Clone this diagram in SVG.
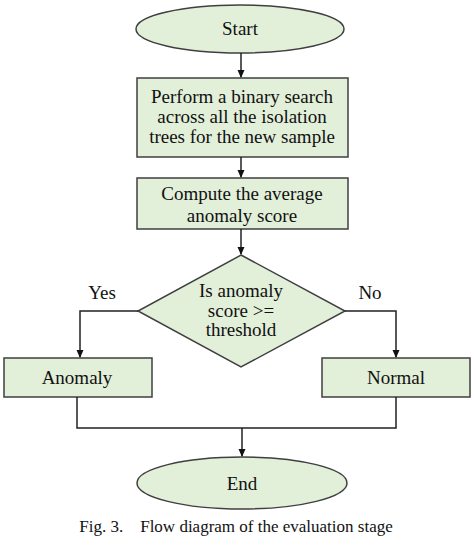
<svg xmlns="http://www.w3.org/2000/svg" width="474" height="537" viewBox="0 0 474 537">
<defs>
<style>
.n{fill:#e2efd9;stroke:#3f3f3f;stroke-width:1.5}
.t{font-family:"Liberation Serif","Times New Roman",serif;font-size:19px;fill:#111;text-anchor:middle}
.c{fill:none;stroke:#222;stroke-width:1.5}
</style>
<marker id="a" markerWidth="8" markerHeight="8" refX="7" refY="4" orient="auto" markerUnits="userSpaceOnUse">
<path d="M0,0.5 L8,4 L0,7.5 Z" fill="#111"/>
</marker>
</defs>
<rect width="474" height="537" fill="#fff"/>
<g id="start">
<ellipse class="n" cx="240" cy="29" rx="104" ry="24"/>
<text class="t" x="240" y="35">Start</text>
</g>
<g id="search">
<rect class="n" x="137" y="78" width="211" height="79"/>
<text class="t" x="242" y="103">Perform a binary search</text>
<text class="t" x="242" y="123">across all the isolation</text>
<text class="t" x="242" y="143">trees for the new sample</text>
</g>
<g id="average">
<rect class="n" x="137" y="178" width="211" height="51"/>
<text class="t" x="242" y="200">Compute the average</text>
<text class="t" x="242" y="222">anomaly score</text>
</g>
<g id="decision">
<polygon class="n" points="241,255 345,311 241,367 138,311"/>
<text class="t" x="241" y="297">Is anomaly</text>
<text class="t" x="241" y="317">score &gt;=</text>
<text class="t" x="241" y="336">threshold</text>
</g>
<g id="anomaly">
<rect class="n" x="4" y="358" width="148" height="39"/>
<text class="t" x="77" y="384">Anomaly</text>
</g>
<g id="normal">
<rect class="n" x="322" y="358" width="148" height="39"/>
<text class="t" x="396" y="384">Normal</text>
</g>
<g id="end">
<ellipse class="n" cx="242" cy="483" rx="105" ry="26"/>
<text class="t" x="242" y="490">End</text>
</g>
<g id="connectors">
<line class="c" x1="241" y1="53" x2="241" y2="77" marker-end="url(#a)"/>
<line class="c" x1="241" y1="157" x2="241" y2="177" marker-end="url(#a)"/>
<line class="c" x1="241" y1="229" x2="241" y2="254" marker-end="url(#a)"/>
<polyline class="c" points="138,311 80,311 80,357" marker-end="url(#a)"/>
<polyline class="c" points="345,311 396,311 396,357" marker-end="url(#a)"/>
<polyline class="c" points="77,397 77,428 396,428 396,397"/>
<line class="c" x1="242" y1="428" x2="242" y2="456" marker-end="url(#a)"/>
<text class="t" x="102" y="299">Yes</text>
<text class="t" x="370" y="299">No</text>
</g>
<text class="t" x="236" y="532" style="font-size:17px" xml:space="preserve">Fig. 3.    Flow diagram of the evaluation stage</text>
</svg>
